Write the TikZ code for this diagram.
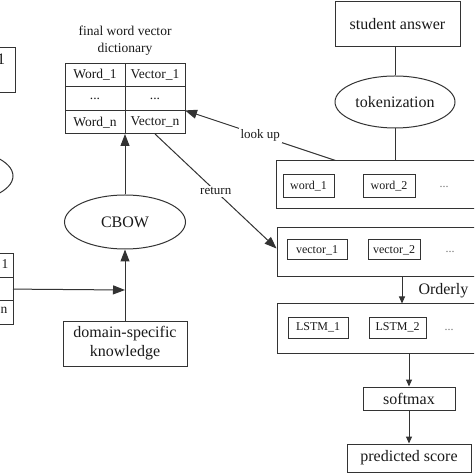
\documentclass[tikz,border=0pt]{standalone}
\usepackage{fontspec}
\setmainfont{Liberation Serif}
\usetikzlibrary{positioning,calc}
\usetikzlibrary{shapes.geometric, arrows.meta}
\tikzset{
  bx/.style={rectangle, draw=black!80, inner sep=0pt, text centered, text=black!90, font=\fontsize{8}{9.5}\selectfont},
  el/.style={ellipse, draw=black!80, inner sep=0pt, text centered, text=black!90, font=\fontsize{8}{9.5}\selectfont},
  cell/.style={rectangle, draw=black!80, inner sep=0pt, outer sep=0pt, minimum width=30pt, minimum height=11.8pt, text=black!90, font=\fontsize{6.75}{8}\selectfont},
  sm/.style={rectangle, draw=black!80, inner sep=0pt, text=black!90, font=\fontsize{6}{7}\selectfont},
  lbl/.style={text=black!90, font=\fontsize{6.5}{8}\selectfont},
  dots/.style={text=black!55, font=\fontsize{6}{7}\selectfont},
  >={Triangle[length=6pt,width=4.5pt]},
  sa/.style={-{Triangle[length=3.5pt,width=3pt]}},
  node distance=7mm
}
\begin{document}
\begin{tikzpicture}[x=0.5pt, y=-0.5pt, line width=0.5pt, draw=black!80]
	\useasboundingbox (0,0) rectangle (474,474);
	\clip (0,0) rectangle (474,474);

	\node[bx, minimum width=45pt, minimum height=22.5pt] (leftbox) at (-30,70.5) {};
	\node[bx, draw=none] (leftone) at (1,59) {1};
	\node[el, minimum width=60pt, minimum height=27pt] (leftell) at (-47,176) {};
	\node[cell] (lt1) at (-17,265.5) {};
	\node[cell, below=0pt of lt1] (lt2) {};
	\node[cell, below=0pt of lt2] (lt3) {};
	\node[lbl, font=\fontsize{6.75}{8}\selectfont] (ltone) at (5,264.5) {1};
	\node[lbl, font=\fontsize{6.75}{8}\selectfont] (ltn) at (4,310.5) {n};

	\node[lbl, align=center, font=\fontsize{6.75}{8.5}\selectfont] (title) at (125,41) {final word vector\\dictionary};
	\node[cell] (w1) at (95,75) {Word\_1};
	\node[cell, right=0pt of w1] (v1) {Vector\_1};
	\node[cell, below=0pt of w1] (wd) {...};
	\node[cell, below=0pt of v1] (vd) {...};
	\node[cell, below=0pt of wd] (wn) {Word\_n};
	\node[cell, below=0pt of vd] (vn) {Vector\_n};

	\node[el, minimum width=60.5pt, minimum height=27pt] (cbow) at (125,222) {CBOW};
	\node[bx, minimum width=62pt, minimum height=22.5pt, align=center] (domain) at (125,343.5) {domain-specific\\knowledge};
	\coordinate (join) at (125,290);

	\node[bx, minimum width=62.5pt, minimum height=22.5pt] (answer) at (397.5,24.5) {student answer};
	\node[el, minimum width=60pt, minimum height=26pt] (token) at (395,102) {tokenization};

	\node[bx, minimum width=125pt, minimum height=24pt] (words) at (401,185) {};
	\node[sm, minimum width=25.5pt, minimum height=11.5pt] (word1) at (308.5,186.5) {word\_1};
	\node[sm, minimum width=26pt, minimum height=11.5pt, right=14pt of word1] (word2) {word\_2};
	\node[dots] (wdots) at (444,187) {...};

	\node[bx, minimum width=125pt, minimum height=24.5pt] (vectors) at (402,252.5) {};
	\node[sm, minimum width=30pt, minimum height=10pt] (vec1) at (317,250) {vector\_1};
	\node[sm, minimum width=26pt, minimum height=10pt, right=10pt of vec1] (vec2) {vector\_2};
	\node[dots] (vdots) at (450,252) {...};

	\node[bx, minimum width=125pt, minimum height=24.5pt] (lstms) at (402,328.5) {};
	\node[sm, minimum width=30pt, minimum height=10.5pt] (lstm1) at (318,327.5) {LSTM\_1};
	\node[sm, minimum width=28.5pt, minimum height=10.5pt, right=10pt of lstm1] (lstm2) {LSTM\_2};
	\node[dots] (ldots) at (449,330) {...};

	\node[bx, minimum width=46pt, minimum height=11.5pt] (softmax) at (409,398.5) {softmax};
	\node[bx, minimum width=62pt, minimum height=14pt] (score) at (409,458) {predicted score};

	\draw (token.north |- answer.south) -- (token.north);
	\draw (token.south) -- (token.south |- words.north);
	\draw[->] ([xshift=30pt]words.north west) -- node[lbl, fill=white, inner sep=1pt] {look up} (vd.south east);
	\draw[->] (vn.south) -- node[lbl, fill=white, inner sep=1pt] {return} ([yshift=2pt]vectors.west);
	\draw[->] (cbow) -- (wn.south east);
	\draw[->] (domain) -- (cbow);
	\draw[->] (lt2.east) -- (join);
	\draw[sa] (vectors) -- node[bx, draw=none, right=8pt] {Orderly} (lstms);
	\draw[sa] (softmax.north |- lstms.south) -- (softmax);
	\draw[sa] (softmax) -- (score);
\end{tikzpicture}
\end{document}
